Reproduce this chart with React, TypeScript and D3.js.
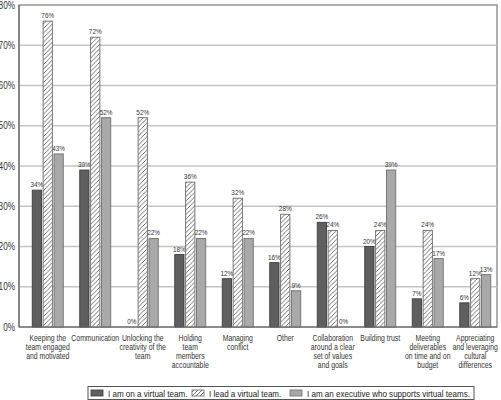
import React from "react";
import * as d3 from "d3";

const categories: string[][] = [
  ["Keeping the", "team engaged", "and motivated"],
  ["Communication"],
  ["Unlocking the", "creativity of the", "team"],
  ["Holding", "team", "members", "accountable"],
  ["Managing", "conflict"],
  ["Other"],
  ["Collaboration", "around a clear", "set of values", "and goals"],
  ["Building trust"],
  ["Meeting", "deliverables", "on time and on", "budget"],
  ["Appreciating", "and leveraging", "cultural", "differences"],
];
const onTeam = [34, 39, 0, 18, 12, 16, 26, 20, 7, 6];
const leadTeam = [76, 72, 52, 36, 32, 28, 24, 24, 24, 12];
const executive = [43, 52, 22, 22, 22, 9, 0, 39, 17, 13];
const seriesNames = [
  "I am on a virtual team.",
  "I lead a virtual team.",
  "I am an executive who supports virtual teams.",
];
const yTicks = [0, 10, 20, 30, 40, 50, 60, 70, 80];

const FONT = "'Liberation Sans', Arial, sans-serif";
const NARROW = 0.82;

function NText(props: {
  x: number;
  y: number;
  size: number;
  anchor?: string;
  dy?: string;
  fill?: string;
  children: React.ReactNode;
}) {
  return (
    <g transform={`translate(${props.x},${props.y}) scale(${NARROW},1)`}>
      <text
        x={0}
        y={0}
        dy={props.dy}
        textAnchor={props.anchor || "start"}
        fontSize={props.size}
        fill={props.fill || "#333"}
      >
        {props.children}
      </text>
    </g>
  );
}

export default function App() {
  const W = 501;
  const H = 400;
  const axisX = 19;
  const right = 497;
  const top = 5;
  const bottom = 327;

  const y = d3.scaleLinear().domain([0, 80]).range([bottom, top]);
  const x = d3
    .scaleBand<number>()
    .domain(d3.range(categories.length))
    .range([24, 499])
    .paddingInner(0)
    .paddingOuter(0);
  const inner = d3
    .scaleBand<number>()
    .domain([0, 1, 2])
    .range([-15.5, 15.5])
    .paddingInner(0.15);

  const series = [onTeam, leadTeam, executive];
  const fills = ["#5f5f5f", "url(#hatch)", "#a9a9a9"];
  const strokes = ["#3c3c3c", "#6a6a6a", "#6e6e6e"];

  const legendItems = [
    { x: 91, tx: 108 },
    { x: 192, tx: 209 },
    { x: 290, tx: 307 },
  ];

  return (
    <svg
      width={W}
      height={H}
      style={{ position: "absolute", left: 0, top: 0, background: "#fff" }}
      fontFamily={FONT}
    >
      <defs>
        <pattern id="hatch" patternUnits="userSpaceOnUse" width="4.5" height="4.5">
          <rect width="4.5" height="4.5" fill="#fff" />
          <path d="M-1,1 L1,-1 M0,4.5 L4.5,0 M3.5,5.5 L5.5,3.5" stroke="#4a4a4a" strokeWidth="0.8" />
        </pattern>
        <pattern id="hatchLegend" patternUnits="userSpaceOnUse" width="4" height="4">
          <rect width="4" height="4" fill="#fff" />
          <path d="M-1,1 L1,-1 M0,4 L4,0 M3,5 L5,3" stroke="#4a4a4a" strokeWidth="0.8" />
        </pattern>
      </defs>

      {/* plot frame */}
      <rect x={axisX} y={top} width={right - axisX} height={bottom - top} fill="#fff" stroke="#7a7a7a" strokeWidth={1.2} />

      {/* gridlines */}
      {yTicks.slice(1, -1).map((t) => (
        <line key={t} x1={axisX} x2={right} y1={y(t)} y2={y(t)} stroke="#c4c4c4" strokeWidth={1.4} />
      ))}

      {/* y tick labels */}
      {yTicks.map((t) => (
        <NText key={t} x={15} y={y(t)} dy="0.35em" anchor="end" size={10}>
          {t}%
        </NText>
      ))}

      {/* bars */}
      {series.map((vals, si) =>
        vals.map((v, ci) => {
          const bx = (x(ci) as number) + x.bandwidth() / 2 + (inner(si) as number);
          const bw = inner.bandwidth();
          return (
            <g key={`${si}-${ci}`}>
              {v > 0 && (
                <rect
                  x={bx}
                  y={y(v)}
                  width={bw}
                  height={y(0) - y(v)}
                  fill={fills[si]}
                  stroke={strokes[si]}
                  strokeWidth={0.9}
                />
              )}
              <NText x={bx + bw / 2} y={y(v) - 3} anchor="middle" size={7.8}>
                {v}%
              </NText>
            </g>
          );
        })
      )}

      {/* axes */}
      <line x1={axisX} x2={right} y1={bottom} y2={bottom} stroke="#6a6a6a" strokeWidth={1.2} />
      <line x1={axisX} x2={axisX} y1={top} y2={bottom} stroke="#6a6a6a" strokeWidth={1.2} />

      {/* category labels */}
      {categories.map((lines, ci) => (
        <g key={ci}>
          {lines.map((l, li) => (
            <NText
              key={li}
              x={(x(ci) as number) + x.bandwidth() / 2}
              y={341 + li * 9}
              anchor="middle"
              size={8.4}
            >
              {l}
            </NText>
          ))}
        </g>
      ))}

      {/* legend */}
      <rect x={88} y={386.5} width={386} height={13} fill="#fff" stroke="#555" strokeWidth={1} />
      {legendItems.map((it, i) => (
        <g key={i}>
          <rect
            x={it.x}
            y={390}
            width={12}
            height={6}
            fill={i === 1 ? "url(#hatchLegend)" : fills[i]}
            stroke={strokes[i]}
            strokeWidth={0.8}
          />
          <NText x={it.tx} y={396.5} size={9.8} fill="#222">
            {seriesNames[i]}
          </NText>
        </g>
      ))}
    </svg>
  );
}
